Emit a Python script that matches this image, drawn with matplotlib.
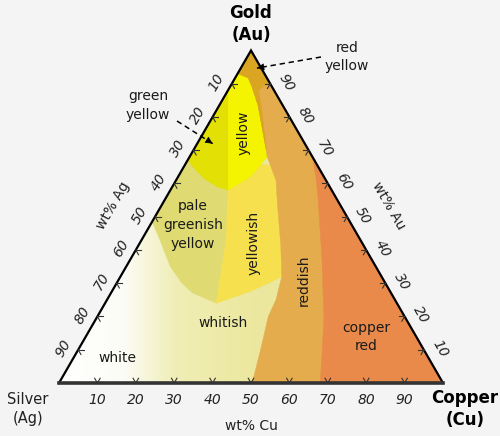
import numpy as np
import matplotlib
matplotlib.use("Agg")
import matplotlib.pyplot as plt
from matplotlib.patches import Polygon
from matplotlib.colors import LinearSegmentedColormap

# ---- Region boundaries as (wt% Cu, wt% Au); Ag is the rest ----
reddish_edge = [(0, 100), (6, 88.7), (10, 83.6), (17, 73), (20.2, 68), (26, 61), (31, 52),
                (37, 41.5), (42, 32), (44, 25), (44.5, 20), (47.5, 10), (50.3, 0)]
copper_edge = [(32, 68), (36.5, 61), (40, 55), (45, 46), (50, 37), (55, 27.5), (59.5, 19),
               (64, 9), (68, 0)]
yellow_bottom = [(15, 58), (18.8, 62), (20.2, 68)]
green_bottom = [(0, 67), (2.4, 65), (7, 61.5), (11.7, 59), (15, 58)]
pale_bottom = [(0, 48.5), (4.8, 43), (11.5, 35), (17, 30), (21.4, 27), (29, 24)]
yellowish_left = [(29, 24), (22, 43), (15, 58)]
yellowish_bottom = [(29, 24), (36, 27.5), (39.5, 30), (42, 32)]
red_yellow_strip = [(0, 100), (0, 93), (3.4, 91.7), (6, 88.7), (10, 83.6), (17, 73),
                    (19, 70), (11.8, 82), (8, 88), (9.5, 90.5)]

ticks = [10, 20, 30, 40, 50, 60, 70, 80, 90]

region_labels = ["yellow", "green\nyellow", "red\nyellow", "pale\ngreenish\nyellow",
                 "yellowish", "reddish", "whitish", "white", "copper\nred"]

S3 = np.sqrt(3) / 2


def tern(pts):
    # (Cu, Au) in wt% -> cartesian, Ag at (0,0), Cu at (1,0), Au at top
    a = np.asarray(pts, dtype=float) / 100.0
    return np.column_stack([a[:, 0] + a[:, 1] / 2, a[:, 1] * S3])


def px(x, y):
    # layout helper: pixel position in the 500x436 picture -> data coords
    return (x - 59) / 384.0, (383 - y) / 384.0


fig = plt.figure(figsize=(5, 4.36), dpi=100)
fig.patch.set_facecolor("#f4f4f4")
ax = fig.add_axes([0, 0, 1, 1])
ax.set_xlim((0 - 59) / 384, (500 - 59) / 384)
ax.set_ylim((383 - 436) / 384, 383 / 384)
ax.set_aspect("equal")
ax.axis("off")

corners = tern([(0, 0), (100, 0), (0, 100)])
tri = Polygon(corners, closed=True, transform=ax.transData, fc="none", ec="none")
ax.add_patch(tri)

# whitish background, fading to white towards silver
cmap = LinearSegmentedColormap.from_list(
    "whitish", [(0, "#ffffff"), (0.17, "#fcfcf6"), (0.3, "#f0eeb6"),
                (0.5, "#ece89f"), (1, "#e8e292")])
grad = np.tile(np.linspace(0, 1, 400), (50, 1))
img = ax.imshow(grad, extent=[0, 1, 0, S3], origin="lower", cmap=cmap,
                aspect="auto", interpolation="bilinear", zorder=1)
img.set_clip_path(tri)


def fill(pts, color, z):
    p = Polygon(tern(pts), closed=True, fc=color, ec=color, lw=0.3, zorder=z)
    ax.add_patch(p)
    p.set_clip_path(tri)


# pale greenish yellow (top hidden under green yellow)
fill(pale_bottom + yellowish_left[1:] + [(8, 66), (0, 70)], "#dfdb72", 2)
# yellowish (right side hidden under reddish, top under yellow)
fill(yellowish_bottom + [(46, 35), (30, 64), (19, 66)] + yellowish_left[:0:-1], "#f6e04e", 3)
# bright yellow
fill(yellow_bottom + [(25, 72), (15, 90), (0, 100), (0, 67)], "#f4f400", 4)
# reddish band
fill(reddish_edge + [(100, 0)], "#e4ac4c", 5)
# copper red
fill(copper_edge + [(100, 0)], "#e98a4a", 6)
# green yellow
fill([(0, 88)] + green_bottom[::-1] + [(0, 67)], "#e2e004", 7)
# red yellow strip at the gold corner
fill(red_yellow_strip, "#d9a522", 8)

# triangle frame
ax.plot(*tern([(0, 0), (0, 100), (100, 0)]).T, color="black", lw=1.6, zorder=10,
        solid_joinstyle="miter")
ax.plot(*tern([(0, 0), (100, 0)]).T, color="#333333", lw=2.6, zorder=10)

# chevron ticks and tick labels
arm = 5.5 / 384
normals = {"cu": 90, "ag": 330, "au": 210}   # inward normal angle of each edge
for t in ticks:
    pts = {"cu": tern([(t, 0)])[0], "ag": tern([(0, 100 - t)])[0], "au": tern([(100 - t, t)])[0]}
    for k, nrm in normals.items():
        x0, y0 = pts[k]
        for d in (nrm - 30, nrm + 30):
            r = np.radians(d)
            ax.plot([x0, x0 + arm * np.cos(r)], [y0, y0 + arm * np.sin(r)],
                    color="#333333", lw=0.8, zorder=11)
    tk = dict(fontsize=10, style="italic", color="#222222", ha="center", va="center")
    bx, by = pts["cu"]
    ax.text(bx, by - 17 / 384, str(t), **tk)
    lx, ly = pts["ag"]
    ax.text(lx - 15 / 384, ly + 1.5 / 384, str(t), rotation=60, **tk)
    rx, ry = pts["au"]
    ax.text(rx + 16 / 384, ry + 1.5 / 384, str(t), rotation=-60, **tk)

# axis titles and corners
ax.text(*px(251, 426), "wt% Cu", fontsize=10, ha="center", va="center", color="#222222")
ax.text(*px(113, 206), "wt% Ag", fontsize=10, ha="center", va="center", rotation=60,
        color="#222222")
ax.text(*px(389, 206), "wt% Au", fontsize=10, ha="center", va="center", rotation=-60,
        color="#222222")
ax.text(*px(251, 24), "Gold\n(Au)", fontsize=12, weight="bold", ha="center", va="center",
        linespacing=1.35)
ax.text(*px(28, 409), "Silver\n(Ag)", fontsize=10.5, ha="center", va="center",
        linespacing=1.35, color="#222222")
ax.text(*px(465, 409), "Copper\n(Cu)", fontsize=12, weight="bold", ha="center",
        va="center", linespacing=1.3)

# region labels
label_pos = [(244, 133), (148, 105.5), (347, 57), (193, 225), (254, 243), (304, 280),
             (223, 323), (117, 358), (366, 337)]
label_rot = [90, 0, 0, 0, 90, 90, 0, 0, 0]
for txt, (x, y), r in zip(region_labels, label_pos, label_rot):
    ax.text(*px(x, y), txt, fontsize=10, ha="center", va="center", rotation=r,
            linespacing=1.45, color="#1a1a1a", zorder=12)

# dashed pointers
for start, tip in [(px(177, 121), tern([(4, 72)])[0]), (px(321, 57), tern([(4.2, 94.7)])[0])]:
    sx, sy = start
    tx, ty = tip
    ax.plot([sx, tx], [sy, ty], color="black", lw=1.1, ls=(0, (3.5, 2.5)), zorder=12)
    ax.annotate("", xy=(tx, ty), xytext=(tx - (tx - sx) * 0.01, ty - (ty - sy) * 0.01),
                arrowprops=dict(arrowstyle="-|>", color="black", lw=0.5,
                                mutation_scale=11), zorder=13)

fig.savefig("out.png", dpi=100, facecolor=fig.get_facecolor())
